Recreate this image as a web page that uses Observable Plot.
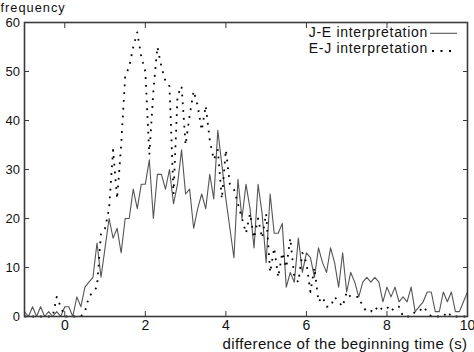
<!DOCTYPE html>
<html><head><meta charset="utf-8">
<script src="https://cdn.jsdelivr.net/npm/d3@7"></script>
<script src="https://cdn.jsdelivr.net/npm/@observablehq/plot@0.6"></script>
<style>
html,body{margin:0;padding:0;background:#fff;}
#chart svg{display:block;}
</style></head><body><div id="chart"></div>
<script>
const seriesNames = ["J-E interpretation", "E-J interpretation"];
const binStart = -1, binWidth = 0.1;
const jeValues = [
  1,0,2,0,2,0,1,0,1,0,
  2,2,0,4,2,6,7,8,15,8,
  14,20,16,18,13,20,20,26,22,27,
  27,32,20,29,29,26,30,23,27,34,
  25,26,18,22,25,22,29,24,38,31,
  24,18,12,28,20,27,22,14,27,21,
  11,25,17,17,19,6,9,7,16,9,
  13,12,8,14,11,9,14,11,6,13,
  5,9,7,4,7,8,7,8,7,3,
  6,4,6,3,4,3,6,1,2,3,
  5,5,1,1,5,3,5,1,1,3,
  5
];
const ejValues = [
  0,0,0,0,0,0,0,0,4,2,
  0,0,0,0,0,1,4,5,6,17,
  18,22,34,24,35,49,51,55,58,53,
  50,33,46,55,51,48,47,25,45,47,
  35,41,46,43,38,43,36,32,34,24,
  34,27,26,23,20,17,21,16,20,16,
  21,9,14,8,13,10,16,8,7,13,
  11,5,10,3,4,2,2,4,3,2,
  5,4,4,4,2,1,1,2,1,2,
  2,1,2,2,0,0,0,1,1,2,
  1,0,0,0,0,1,0,0,0,0,
  0
];
const xTicks = [0, 2, 4, 6, 8, 10];
const yTicks = [0, 10, 20, 30, 40, 50, 60];
const xLabel = "difference of the beginning time (s)";
const yLabel = "frequency";

const toRows = (vals, name) => vals.map((v, i) => ({series: name, x: +(binStart + i * binWidth).toFixed(1), y: v}));
const jeRows = toRows(jeValues, seriesNames[0]);
const ejRows = toRows(ejValues, seriesNames[1]);

const font = "'Liberation Sans', Arial, Helvetica, sans-serif";
const axisColor = "#3a3a3a";
const dotted = "1.8,6";

const chart = Plot.plot({
  width: 474, height: 352,
  marginLeft: 24, marginRight: 7, marginTop: 22, marginBottom: 36,
  style: {fontFamily: font, background: "#fff", color: "#111"},
  x: {domain: [-1, 10]},
  y: {domain: [0, 60]},
  marks: [
    Plot.line(jeRows, {x: "x", y: "y", stroke: "#555", strokeWidth: 1.1}),
    Plot.line(ejRows, {x: "x", y: "y", stroke: "#000", strokeWidth: 1.8, strokeDasharray: dotted, strokeLinecap: "butt"}),
    Plot.axisX({ticks: xTicks, tickSize: -5, tickFormat: () => "", label: null, stroke: axisColor}),
    Plot.axisX({anchor: "top", ticks: xTicks, tickSize: -5, tickFormat: () => "", label: null, stroke: axisColor}),
    Plot.axisY({ticks: yTicks, tickSize: -5, tickFormat: () => "", label: null, stroke: axisColor}),
    Plot.axisY({anchor: "right", ticks: yTicks, tickSize: -5, tickFormat: () => "", label: null, stroke: axisColor}),
    Plot.axisX({ticks: xTicks, tickSize: 0, tickPadding: 3.5, fontSize: 14, label: null, fill: "#111"}),
    Plot.axisY({ticks: yTicks, tickSize: 0, tickPadding: 4.5, fontSize: 13, label: null, fill: "#111"}),
    Plot.frame({stroke: axisColor, strokeWidth: 1.6}),
    Plot.text([yLabel], {text: d => d, frameAnchor: "top-left", dx: -24, dy: -10.4, textAnchor: "start", lineAnchor: "bottom", fontSize: 12.8, fill: "#111"}),
    Plot.text([xLabel], {text: d => d, frameAnchor: "bottom-right", dx: 0, dy: 32, textAnchor: "end", lineAnchor: "bottom", fontSize: 15, fill: "#111"}),
    Plot.text([seriesNames[0]], {text: d => d, frameAnchor: "top-right", dx: -39.5, dy: 14.2, textAnchor: "end", lineAnchor: "bottom", fontSize: 14, fill: "#111"}),
    Plot.text([seriesNames[1]], {text: d => d, frameAnchor: "top-right", dx: -39.5, dy: 30, textAnchor: "end", lineAnchor: "bottom", fontSize: 14, fill: "#111"})
  ]
});

const svgSel = d3.select(chart);
const spacingBySize = {"15": "0.4", "14": "0.7", "12.8": "1"};
svgSel.selectAll('g[aria-label="text"] text').attr("letter-spacing", function() {
  return spacingBySize[d3.select(this.parentNode).attr("font-size")] || "0.5";
});
const xr = chart.scale("x").range;
const yr = chart.scale("y").range;
const frameRight = Math.max(...xr), frameTop = Math.min(...yr);
const leg = svgSel.append("g").attr("aria-label", "legend samples");
leg.append("line").attr("x1", frameRight - 37).attr("x2", frameRight - 10).attr("y1", frameTop + 11.3).attr("y2", frameTop + 11.3)
  .attr("stroke", "#555").attr("stroke-width", 1.1);
leg.append("line").attr("x1", frameRight - 35).attr("x2", frameRight - 14).attr("y1", frameTop + 29).attr("y2", frameTop + 29)
  .attr("stroke", "#000").attr("stroke-width", 2).attr("stroke-dasharray", "2,6.5");
document.getElementById("chart").appendChild(chart);
</script></body></html>
